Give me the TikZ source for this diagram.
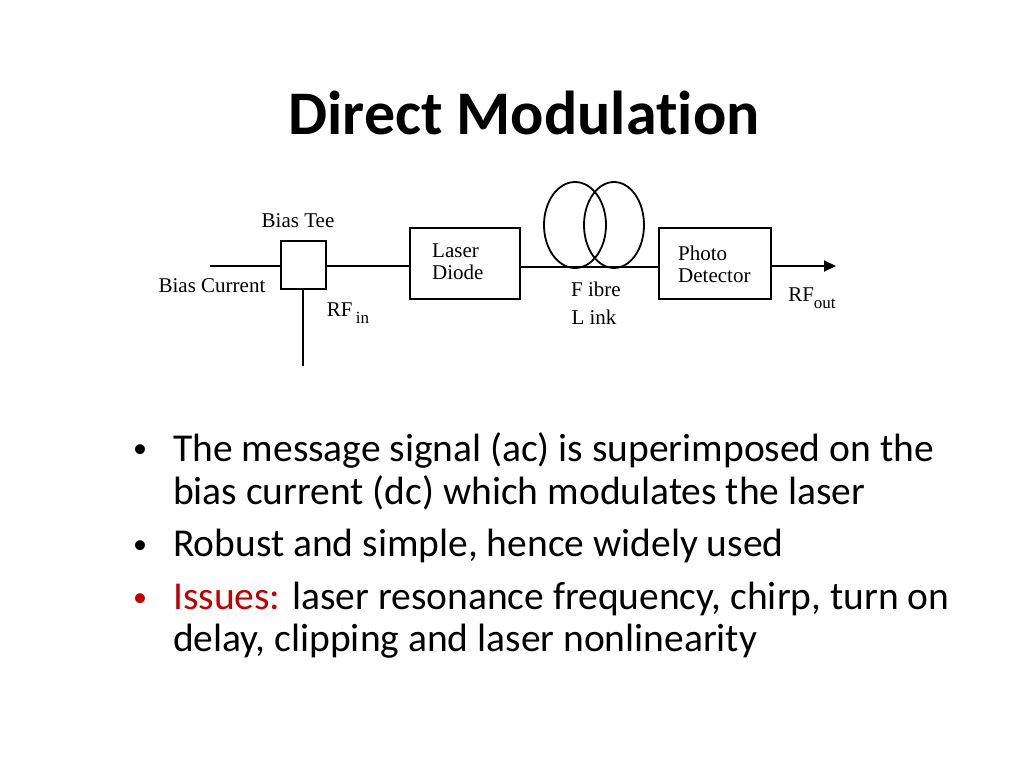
\documentclass[tikz,border=0pt]{standalone}
\usepackage{fontspec}
\setmainfont{Carlito}[Ligatures=NoCommon]
\newfontfamily\diafont{Liberation Serif}
\usetikzlibrary{arrows.meta}
\definecolor{issuered}{RGB}{192,0,0}
\newcommand{\mysubs}[1]{\raisebox{-0.35em}{\fontsize{17}{18}\selectfont #1}}
\begin{document}
\begin{tikzpicture}[x=1pt,y=-1pt,
  blk/.style={draw,line width=1.8pt},
  wire/.style={line width=1.8pt},
  lab/.style={font=\diafont\fontsize{21}{22}\selectfont,inner sep=0pt},
  bul/.style={anchor=base west,inner sep=0pt,font=\fontsize{39.5}{44}\selectfont},
  dot/.style={anchor=base west,inner sep=0pt,font=\fontsize{28}{30}\selectfont}]
\useasboundingbox (0,0) rectangle (1024,768);
\node[font=\bfseries\fontsize{62}{66}\selectfont] (title) at (524,113) {Direct Modulation};
% blocks
\draw[blk] (281,241) rectangle (326,289);
\coordinate (teeL) at (281,266); \coordinate (teeR) at (326,266); \coordinate (teeB) at (303,289);
\coordinate (bin) at (210,266); \coordinate (rfin) at (303,366);
\node[blk,minimum width=110pt,minimum height=71pt] (ld) at (465,263.5) {};
\node[blk,minimum width=112pt,minimum height=71pt] (pd) at (715,263.5) {};
\coordinate (out) at (836,266);
\draw[wire] (bin) -- (teeL);
\draw[wire] (teeB) -- (rfin);
\draw[wire] (teeR) -- (ld.west |- teeR);
\draw[wire] (ld.east |- 0,267) -- (pd.west |- 0,267);
\draw[wire,-{Triangle[length=12pt,width=11pt]}] (pd.east |- out) -- (out);
\draw[wire] (575,225) ellipse [x radius=31pt,y radius=43pt];
\draw[wire] (614,225) ellipse [x radius=30pt,y radius=43pt];
% labels
\node[lab] (bt) at (298,221) {Bias Tee};
\node[lab] (bc) at (212,286) {Bias Current};
\node[lab] (rfi) at (348,313) {RF\,\mysubs{in}};
\node[lab,align=left,anchor=west] (ldt) at (432,262) {Laser\\Diode};
\node[lab,align=left,anchor=west] (pdt) at (678,264) {Photo\\Detector};
\node[lab] (fb) at (596,289) {F ibre};
\node[lab] (lk) at (594,317) {L ink};
\node[lab] (rfo) at (812,298) {RF\mysubs{out}};
% bullets
\node[dot] (b1) at (133,457) {•};
\node[bul] (t1) at (173,461) {The message signal (ac) is superimposed on the};
\node[bul] (t1b) at (173,504) {bias current (dc) which modulates the laser};
\node[dot] (b2) at (133,553) {•};
\node[bul] (t2) at (173,556) {Robust and simple, hence widely used};
\node[dot,text=issuered] (b3) at (133,606) {•};
\node[bul] (t3) at (173,609) {\textcolor{issuered}{Issues:} laser resonance frequency, chirp, turn on};
\node[bul] (t3b) at (173,651) {delay, clipping and laser nonlinearity};
\end{tikzpicture}
\end{document}
